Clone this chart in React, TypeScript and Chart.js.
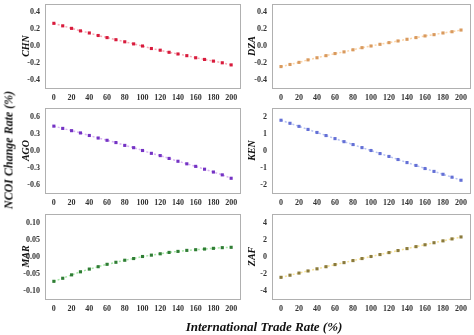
import React, { useEffect, useRef } from "react";
import { Chart, registerables } from "chart.js";
Chart.register(...registerables);

const trade = [0, 10, 20, 30, 40, 50, 60, 70, 80, 90, 100, 110, 120, 130, 140, 150, 160, 170, 180, 190, 200];
const xTicks = [0, 20, 40, 60, 80, 100, 120, 140, 160, 180, 200];

const chnValues = [0.27, 0.24, 0.21, 0.18, 0.155, 0.125, 0.1, 0.075, 0.05, 0.025, 0.0, -0.03, -0.05, -0.075, -0.095, -0.115, -0.14, -0.16, -0.18, -0.2, -0.225];
const dzaValues = [-0.245, -0.22, -0.195, -0.165, -0.14, -0.115, -0.09, -0.07, -0.045, -0.02, 0.0, 0.02, 0.04, 0.06, 0.08, 0.1, 0.12, 0.135, 0.155, 0.17, 0.19];
const agoValues = [0.43, 0.39, 0.35, 0.31, 0.265, 0.22, 0.18, 0.14, 0.09, 0.05, 0.0, -0.05, -0.09, -0.14, -0.19, -0.235, -0.28, -0.33, -0.38, -0.43, -0.49];
const kenValues = [1.78, 1.6, 1.42, 1.24, 1.06, 0.88, 0.7, 0.52, 0.35, 0.17, 0.0, -0.18, -0.35, -0.53, -0.71, -0.88, -1.06, -1.23, -1.4, -1.57, -1.75];
const marValues = [-0.073, -0.064, -0.054, -0.045, -0.037, -0.03, -0.023, -0.017, -0.011, -0.006, 0.0, 0.004, 0.008, 0.012, 0.015, 0.018, 0.02, 0.022, 0.024, 0.026, 0.027];
const zafValues = [-2.45, -2.2, -1.95, -1.7, -1.45, -1.2, -0.95, -0.72, -0.48, -0.24, 0.0, 0.23, 0.46, 0.7, 0.93, 1.16, 1.38, 1.62, 1.84, 2.07, 2.3];

const chnTicks = [-0.4, -0.2, 0.0, 0.2, 0.4];
const dzaTicks = [-0.4, -0.2, 0.0, 0.2, 0.4];
const agoTicks = [-0.6, -0.3, 0.0, 0.3, 0.6];
const kenTicks = [-2, -1, 0, 1, 2];
const marTicks = [-0.1, -0.05, 0.0, 0.05, 0.1];
const zafTicks = [-4, -2, 0, 2, 4];

type Panel = {
  name: string;
  values: number[];
  ticks: number[];
  range: number;
  decimals: number;
  marker: string;
  line: string;
  left: number;
  top: number;
  width: number;
  height: number;
  yw: number;
  padRight: number;
  titleOffset: number;
};

const SERIF = "'Liberation Serif', 'Times New Roman', serif";

const panels: Panel[] = [
  { name: "CHN", values: chnValues, ticks: chnTicks, range: 0.5, decimals: 1, marker: "#d81b3c", line: "#f5a9b4", left: 0, top: 0, width: 244, height: 104, yw: 45, padRight: 4, titleOffset: 20 },
  { name: "DZA", values: dzaValues, ticks: dzaTicks, range: 0.5, decimals: 1, marker: "#d99a5e", line: "#fcd5a8", left: 236, top: 0, width: 238, height: 104, yw: 36, padRight: 3, titleOffset: 10 },
  { name: "AGO", values: agoValues, ticks: agoTicks, range: 0.75, decimals: 1, marker: "#7433c4", line: "#dab4f2", left: 0, top: 104, width: 244, height: 105, yw: 45, padRight: 4, titleOffset: 20 },
  { name: "KEN", values: kenValues, ticks: kenTicks, range: 2.5, decimals: 0, marker: "#6470d6", line: "#b9c4f2", left: 236, top: 104, width: 238, height: 105, yw: 36, padRight: 3, titleOffset: 10 },
  { name: "MAR", values: marValues, ticks: marTicks, range: 0.125, decimals: 2, marker: "#2f7d34", line: "#a8e8a8", left: 0, top: 210, width: 244, height: 105, yw: 45, padRight: 4, titleOffset: 20 },
  { name: "ZAF", values: zafValues, ticks: zafTicks, range: 5, decimals: 0, marker: "#8a7a3c", line: "#f6e29a", left: 236, top: 210, width: 238, height: 105, yw: 36, padRight: 3, titleOffset: 10 },
];

const boxPlugin = {
  id: "box",
  afterDraw(chart: any) {
    const { ctx, chartArea } = chart;
    ctx.save();
    ctx.strokeStyle = "#b0b0b0";
    ctx.lineWidth = 1;
    ctx.strokeRect(
      Math.round(chartArea.left) + 0.5,
      Math.round(chartArea.top) + 0.5,
      Math.round(chartArea.right - chartArea.left),
      Math.round(chartArea.bottom - chartArea.top)
    );
    ctx.restore();
  },
};

function PanelChart({ p }: { p: Panel }) {
  const ref = useRef<HTMLCanvasElement | null>(null);
  useEffect(() => {
    if (!ref.current) return;
    const chart = new Chart(ref.current, {
      type: "line",
      data: {
        datasets: [
          {
            data: trade.map((x, i) => ({ x, y: p.values[i] })),
            borderColor: p.line,
            borderWidth: 1.5,
            borderDash: [2, 2],
            pointStyle: "rect",
            pointRadius: 2.2,
            pointBackgroundColor: p.marker,
            pointBorderColor: p.marker,
            pointBorderWidth: 0,
            tension: 0,
          },
        ],
      },
      options: {
        animation: false,
        responsive: false,
        maintainAspectRatio: false,
        layout: { padding: { left: 0, right: p.padRight, top: 3, bottom: 0 } },
        plugins: { legend: { display: false }, tooltip: { enabled: false } },
        scales: {
          x: {
            type: "linear",
            min: -10,
            max: 210,
            border: { display: false },
            grid: { display: false, drawOnChartArea: false, drawTicks: true, tickLength: 3, color: "#888" },
            afterBuildTicks: (s: any) => {
              s.ticks = xTicks.map((v) => ({ value: v }));
            },
            ticks: {
              autoSkip: false,
              maxRotation: 0,
              padding: 2,
              color: "#333",
              font: { family: SERIF, size: 8, weight: "bold" },
              callback: (v: any) => String(v),
            },
            afterFit: (s: any) => {
              s.height = 16;
              s.paddingLeft = 0;
              s.paddingRight = 0;
            },
          },
          y: {
            type: "linear",
            min: -p.range,
            max: p.range,
            border: { display: false },
            grid: { display: false, drawOnChartArea: false, drawTicks: true, tickLength: 3, color: "#888" },
            afterBuildTicks: (s: any) => {
              s.ticks = p.ticks.map((v) => ({ value: v }));
            },
            ticks: {
              padding: 2,
              color: "#333",
              font: { family: SERIF, size: 8, weight: "bold" },
              callback: (v: any) => Number(v).toFixed(p.decimals),
            },
            title: {
              display: true,
              text: p.name,
              color: "#111",
              padding: { top: p.titleOffset, bottom: 0 },
              font: { family: SERIF, size: 10, weight: "bold", style: "italic" },
            },
            afterFit: (s: any) => {
              s.width = p.yw;
              s.paddingTop = 0;
              s.paddingBottom = 0;
            },
          },
        },
      },
      plugins: [boxPlugin],
    } as any);
    return () => chart.destroy();
  }, [p]);
  return (
    <canvas
      ref={ref}
      width={p.width}
      height={p.height}
      style={{ position: "absolute", left: p.left, top: p.top, width: p.width, height: p.height }}
    />
  );
}

export default function App() {
  return (
    <div style={{ position: "fixed", left: 0, top: 0, width: 474, height: 335, background: "#fff", overflow: "hidden" }}>
      {panels.map((p) => (
        <PanelChart key={p.name} p={p} />
      ))}
      <div
        style={{
          position: "absolute",
          left: 9,
          top: 150,
          transform: "translate(-50%, -50%) rotate(-90deg)",
          whiteSpace: "nowrap",
          fontFamily: SERIF,
          fontWeight: "bold",
          fontStyle: "italic",
          fontSize: 12,
          color: "#111",
        }}
      >
        NCOI Change Rate (%)
      </div>
      <div
        style={{
          position: "absolute",
          left: 264,
          top: 327,
          transform: "translate(-50%, -50%)",
          whiteSpace: "nowrap",
          fontFamily: SERIF,
          fontWeight: "bold",
          fontStyle: "italic",
          fontSize: 13,
          color: "#111",
        }}
      >
        International Trade Rate (%)
      </div>
    </div>
  );
}
